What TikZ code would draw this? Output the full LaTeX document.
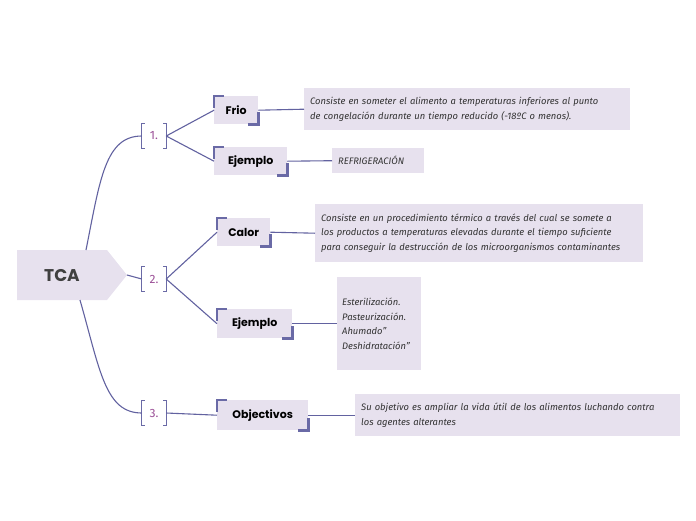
\documentclass[tikz,border=0pt]{standalone}
\usepackage{fontspec}
\setmainfont{Fira Sans}
\newfontfamily\headf{Poppins}
\begin{document}
\begin{tikzpicture}[x=1pt,y=-1pt,
  box/.style={fill=boxc,inner sep=0pt},
  desc/.style={fill=boxc,inner sep=0pt,font=\fontsize{9.4}{14.5}\selectfont\itshape\color{txt},align=left},
  lbl/.style={font=\headf\bfseries\fontsize{11}{11}\selectfont},
  conn/.style={draw=linec,line width=1.1pt},
  brk/.style={draw=brkc,line width=2.6pt},
  sq/.style={draw=brkc,line width=1pt}]
\definecolor{boxc}{HTML}{E7E1EE}
\definecolor{linec}{HTML}{6262A0}
\definecolor{brkc}{HTML}{6A6AA6}
\definecolor{numc}{HTML}{9A4E96}
\definecolor{txt}{HTML}{333333}
\useasboundingbox (0,0) rectangle (696,520);
% TCA
\fill[boxc] (17,250) -- (107,250) -- (127,275) -- (107,300) -- (17,300) -- cycle;
\node[font=\headf\bfseries\fontsize{17}{17}\selectfont, text=black!75] (tca) at (62,276) {TCA};
\coordinate (tcat) at (86,250);
\coordinate (tcab) at (80,300);
\coordinate (tcar) at (127,275);
% brackets
\foreach \n/\y/\t in {b1/136/1.,b2/279/2.,b3/413/3.}{
  \node[minimum width=24pt,minimum height=24pt,inner sep=0pt,font=\fontsize{12}{12}\selectfont,text=numc] (\n) at (154,\y) {\t};
  \draw[sq] ([xshift=3pt]\n.north west) -- (\n.north west) -- (\n.south west) -- ([xshift=3pt]\n.south west);
  \draw[sq] ([xshift=-3pt]\n.north east) -- (\n.north east) -- (\n.south east) -- ([xshift=-3pt]\n.south east);
}
\draw[conn] (tcat) .. controls (100,180) and (105,136) .. (b1.west);
\draw[conn] (tcab) .. controls (100,370) and (105,413) .. (b3.west);
\draw[conn] (tcar) -- (b2.west);
% label boxes
\foreach \n/\x/\y/\w/\h/\t in {frio/214/96/44/28/Frio,ej1/214/147/73/28/Ejemplo,calor/217/218/53/28/Calor,ej2/217/309/75/29/Ejemplo,obj/217/400/91/30/Objectivos}{
  \node[box,lbl,minimum width=\w pt,minimum height=\h pt,anchor=north west] (\n) at (\x,\y) {\t};
  \draw[brk] ([yshift=-12pt]\n.north west) -- (\n.north west) -- ([xshift=10pt]\n.north west);
  \draw[brk] ([yshift=12pt]\n.south east) -- (\n.south east) -- ([xshift=-10pt]\n.south east);
}
% descriptions
\node[desc,minimum width=324pt,minimum height=42pt,anchor=north west,text width=314pt,inner xsep=6pt] (d1) at (304,88) {Consiste en someter el alimento a temperaturas inferiores al punto\\de congelación durante un tiempo reducido (-18ºC o menos).};
\node[desc,minimum width=88pt,minimum height=25pt,anchor=north west,text width=80pt,inner xsep=6pt] (d2) at (332,148) {REFRIGERACIÓN};
\node[desc,minimum width=326pt,minimum height=58pt,anchor=north west,text width=316pt,inner xsep=6pt] (d3) at (315,204) {Consiste en un procedimiento térmico a través del cual se somete a\\los productos a temperaturas elevadas durante el tiempo suficiente\\para conseguir la destrucción de los microorganismos contaminantes};
\node[desc,minimum width=82pt,minimum height=93pt,anchor=north west,text width=74pt,inner xsep=5pt,align=left] (d4) at (337,277) {Esterilización.\\Pasteurización.\\Ahumado"\\Deshidratación"\\[30pt]};
\node[desc,minimum width=323pt,minimum height=42pt,anchor=north west,text width=313pt,inner xsep=6pt] (d5) at (355,394) {Su objetivo es ampliar la vida útil de los alimentos luchando contra\\los agentes alterantes};
% connectors
\draw[conn] (b1.east) -- (frio.west);
\draw[conn] (b1.east) -- (ej1.west);
\draw[conn] (b2.east) -- (calor.west);
\draw[conn] (b2.east) -- (ej2.west);
\draw[conn] (b3.east) -- (obj.west);
\draw[conn] (frio.east) -- (d1.west);
\draw[conn] (ej1.east) -- (d2.west);
\draw[conn] (calor.east) -- (d3.west);
\draw[conn] (ej2.east) -- (d4.west);
\draw[conn] (obj.east) -- (d5.west);
\end{tikzpicture}
\end{document}
